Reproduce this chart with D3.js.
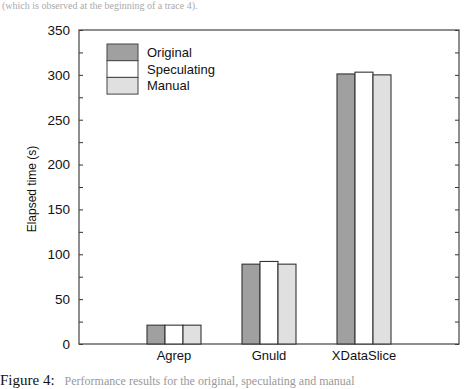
<!DOCTYPE html>
<html>
<head>
<meta charset="utf-8">
<script src="https://cdn.jsdelivr.net/npm/d3@7"></script>
<style>
  html, body { margin: 0; padding: 0; background: #fff; }
  svg { display: block; }
</style>
</head>
<body>
<div id="chart"></div>
<script>
// data
const categories = ["Agrep", "Gnuld", "XDataSlice"];
const seriesNames = ["Original", "Speculating", "Manual"];
const original = [21, 89, 301];
const speculating = [21, 92, 303];
const manual = [21, 89, 300];
const yTicks = [0, 50, 100, 150, 200, 250, 300, 350];

const seriesValues = [original, speculating, manual];
const fills = ["#a0a0a0", "#ffffff", "#e0e0e0"];

const width = 474, height = 389;
const margin = { top: 30, right: 15, bottom: 45, left: 79 };

const svg = d3.select("#chart").append("svg")
    .attr("width", width)
    .attr("height", height)
    .style("font-family", "'Liberation Sans', Arial, sans-serif");

// category slots sit at 1,2,3 on a 0..4 axis
const x = d3.scaleLinear()
    .domain([0, categories.length + 1])
    .range([margin.left, width - margin.right]);

const y = d3.scaleLinear()
    .domain([0, 350])
    .range([height - margin.bottom, margin.top]);

const inner = d3.scaleBand()
    .domain(seriesNames)
    .range([-27, 27]);

// --- axes (ticks every 25, pointing inward) ---
const minorTicks = d3.range(0, 351, 25);
svg.append("g")
    .attr("transform", `translate(${x(0)},0)`)
    .call(d3.axisRight(y).tickValues(minorTicks).tickSize(4).tickFormat(""))
    .call(g => g.select(".domain").remove())
    .selectAll("line").attr("stroke", "#333");

svg.append("g")
    .attr("transform", `translate(${x(4)},0)`)
    .call(d3.axisLeft(y).tickValues(minorTicks).tickSize(4).tickFormat(""))
    .call(g => g.select(".domain").remove())
    .selectAll("line").attr("stroke", "#333");

svg.append("g")
    .attr("transform", `translate(${x(0)},0)`)
    .call(d3.axisLeft(y).tickValues(yTicks).tickSize(0).tickPadding(9))
    .call(g => g.select(".domain").remove())
    .selectAll("text")
    .style("font-size", "13.5px")
    .style("font-family", "'Liberation Sans', Arial, sans-serif")
    .attr("fill", "#111");

// frame
svg.append("rect")
    .attr("x", x(0))
    .attr("y", y(350))
    .attr("width", x(4) - x(0))
    .attr("height", y(0) - y(350))
    .attr("fill", "none")
    .attr("stroke", "#444")
    .attr("stroke-width", 1.2);

// --- bars ---
const groups = svg.append("g").selectAll("g")
    .data(categories)
    .join("g")
    .attr("transform", (d, i) => `translate(${x(i + 1)},0)`);

groups.selectAll("rect")
    .data((d, i) => seriesNames.map((s, j) => ({ s, j, v: seriesValues[j][i] })))
    .join("rect")
    .attr("x", d => inner(d.s))
    .attr("width", inner.bandwidth())
    .attr("y", d => y(d.v))
    .attr("height", d => y(0) - y(d.v))
    .attr("fill", d => fills[d.j])
    .attr("stroke", "#333")
    .attr("stroke-width", 1.1);

// category labels
svg.append("g").selectAll("text")
    .data(categories)
    .join("text")
    .attr("x", (d, i) => x(i + 1))
    .attr("y", y(0) + 16)
    .attr("text-anchor", "middle")
    .style("font-size", "13px")
    .attr("fill", "#111")
    .text(d => d);

// y title
svg.append("text")
    .attr("transform", `translate(36,${(y(0) + y(350)) / 2 + 2}) rotate(-90)`)
    .attr("text-anchor", "middle")
    .style("font-size", "12px")
    .attr("fill", "#111")
    .text("Elapsed time (s)");

// --- legend ---
const legend = svg.append("g").attr("transform", "translate(107,44)");
const rowH = 16.7;
legend.selectAll("rect")
    .data(seriesNames)
    .join("rect")
    .attr("x", 0)
    .attr("y", (d, i) => i * rowH)
    .attr("width", 31)
    .attr("height", rowH)
    .attr("fill", (d, i) => fills[i])
    .attr("stroke", "#444")
    .attr("stroke-width", 1);
legend.selectAll("text")
    .data(seriesNames)
    .join("text")
    .attr("x", 40)
    .attr("y", (d, i) => i * rowH + 13)
    .style("font-size", "13px")
    .attr("fill", "#111")
    .text(d => d);

// surrounding page text from the scan
svg.append("text")
    .attr("x", 2)
    .attr("y", 9)
    .style("font-family", "'Liberation Serif', 'Times New Roman', serif")
    .style("font-size", "10px")
    .attr("fill", "#aaa")
    .text("(which is observed at the beginning of a trace 4).");

svg.append("text")
    .attr("x", 0)
    .attr("y", 385)
    .style("font-family", "'Liberation Serif', 'Times New Roman', serif")
    .style("font-size", "15px")
    .attr("fill", "#111")
    .text("Figure 4:")
    .append("tspan")
    .attr("dx", 10)
    .attr("fill", "#999")
    .style("font-size", "12px")
    .text("Performance results for the original, speculating and manual");
</script>
</body>
</html>
